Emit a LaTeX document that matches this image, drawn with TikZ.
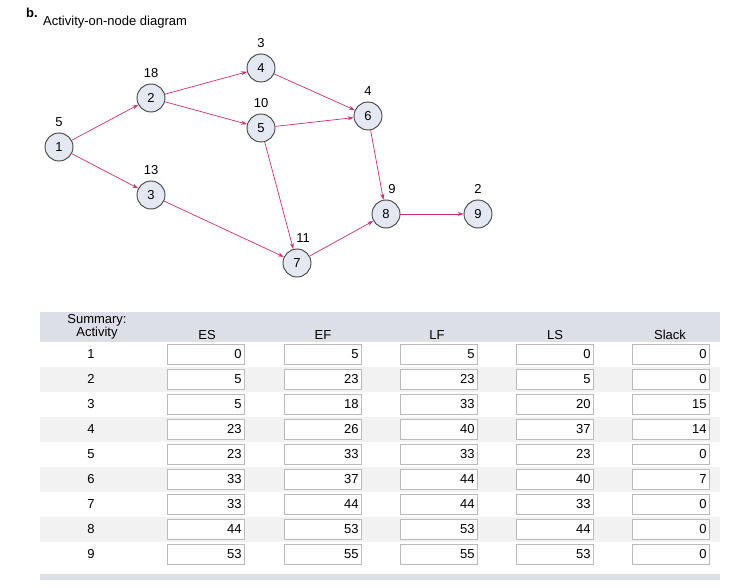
\documentclass[tikz,border=0pt]{standalone}
\usepackage{fontspec}
\setmainfont{Liberation Sans}
\usetikzlibrary{arrows.meta}
\definecolor{arr}{HTML}{D62A7A}
\definecolor{nodefill}{HTML}{E3E8F2}
\definecolor{hdr}{HTML}{DCDFE7}
\definecolor{alt}{HTML}{F2F2F2}
\definecolor{boxline}{HTML}{BBBBBB}
\begin{document}
\begin{tikzpicture}[x=1pt,y=-1pt,font=\fontsize{13}{13.5}\selectfont,
  act/.style={circle,draw=black!75,line width=0.9pt,fill=nodefill,minimum size=28pt,inner sep=0pt},
  lab/.style={inner sep=0pt},
  con/.style={draw=arr,line width=0.7pt,-{Stealth[length=6pt,width=4pt]}},
  cell/.style={draw=boxline,fill=white,minimum width=77pt,minimum height=20pt,inner sep=3pt,anchor=center,align=right,text width=71pt}]
\useasboundingbox (0,0) rectangle (752,588);
\node[lab,font=\fontsize{13}{13.5}\selectfont\bfseries,anchor=west] (b) at (26,13) {b.};
\node[lab,anchor=west] (title) at (43,22) {Activity-on-node diagram};
\foreach \n/\x/\y/\d/\dx in {1/59/147/5/0,2/151/98/18/0,3/151/195/13/0,4/261/68/3/0,5/261/128/10/0,6/368/116/4/0,7/297/263/11/6,8/386/214/9/6,9/478/214/2/0}{
  \node[act] (n\n) at (\x,\y) {\n};
  \node[lab] (d\n) at (\x+\dx,\y-25) {\d};
}
\foreach \a/\b in {1/2,1/3,2/4,2/5,4/6,5/6,5/7,3/7,6/8,7/8,8/9}
  \draw[con] (n\a) -- (n\b);
% table
\fill[hdr] (40,312) rectangle (720,342);
\fill[hdr] (40,574) rectangle (720,580);
\foreach \r in {2,4,6,8} \fill[alt] (40,{354+25*(\r-1)-12.5}) rectangle (720,{354+25*(\r-1)+12.5});
\node[lab,align=center] (hA) at (97,327) {Summary:\\Activity};
\node[lab] (hES) at (207,335) {ES};
\node[lab] (hEF) at (323,335) {EF};
\node[lab] (hLF) at (437,335) {LF};
\node[lab] (hLS) at (555,335) {LS};
\node[lab] (hSl) at (670,335) {Slack};
\foreach \r/\es/\ef/\lf/\ls/\sl in {1/0/5/5/0/0,2/5/23/23/5/0,3/5/18/33/20/15,4/23/26/40/37/14,5/23/33/33/23/0,6/33/37/44/40/7,7/33/44/44/33/0,8/44/53/53/44/0,9/53/55/55/53/0}{
  \pgfmathsetmacro{\yy}{354+25*(\r-1)}
  \node[lab] (a\r) at (91,\yy) {\r};
  \node[cell] (es\r) at (206,\yy) {\es};
  \node[cell] (ef\r) at (323,\yy) {\ef};
  \node[cell] (lf\r) at (439,\yy) {\lf};
  \node[cell] (ls\r) at (555,\yy) {\ls};
  \node[cell] (sl\r) at (671,\yy) {\sl};
}
\end{tikzpicture}
\end{document}
